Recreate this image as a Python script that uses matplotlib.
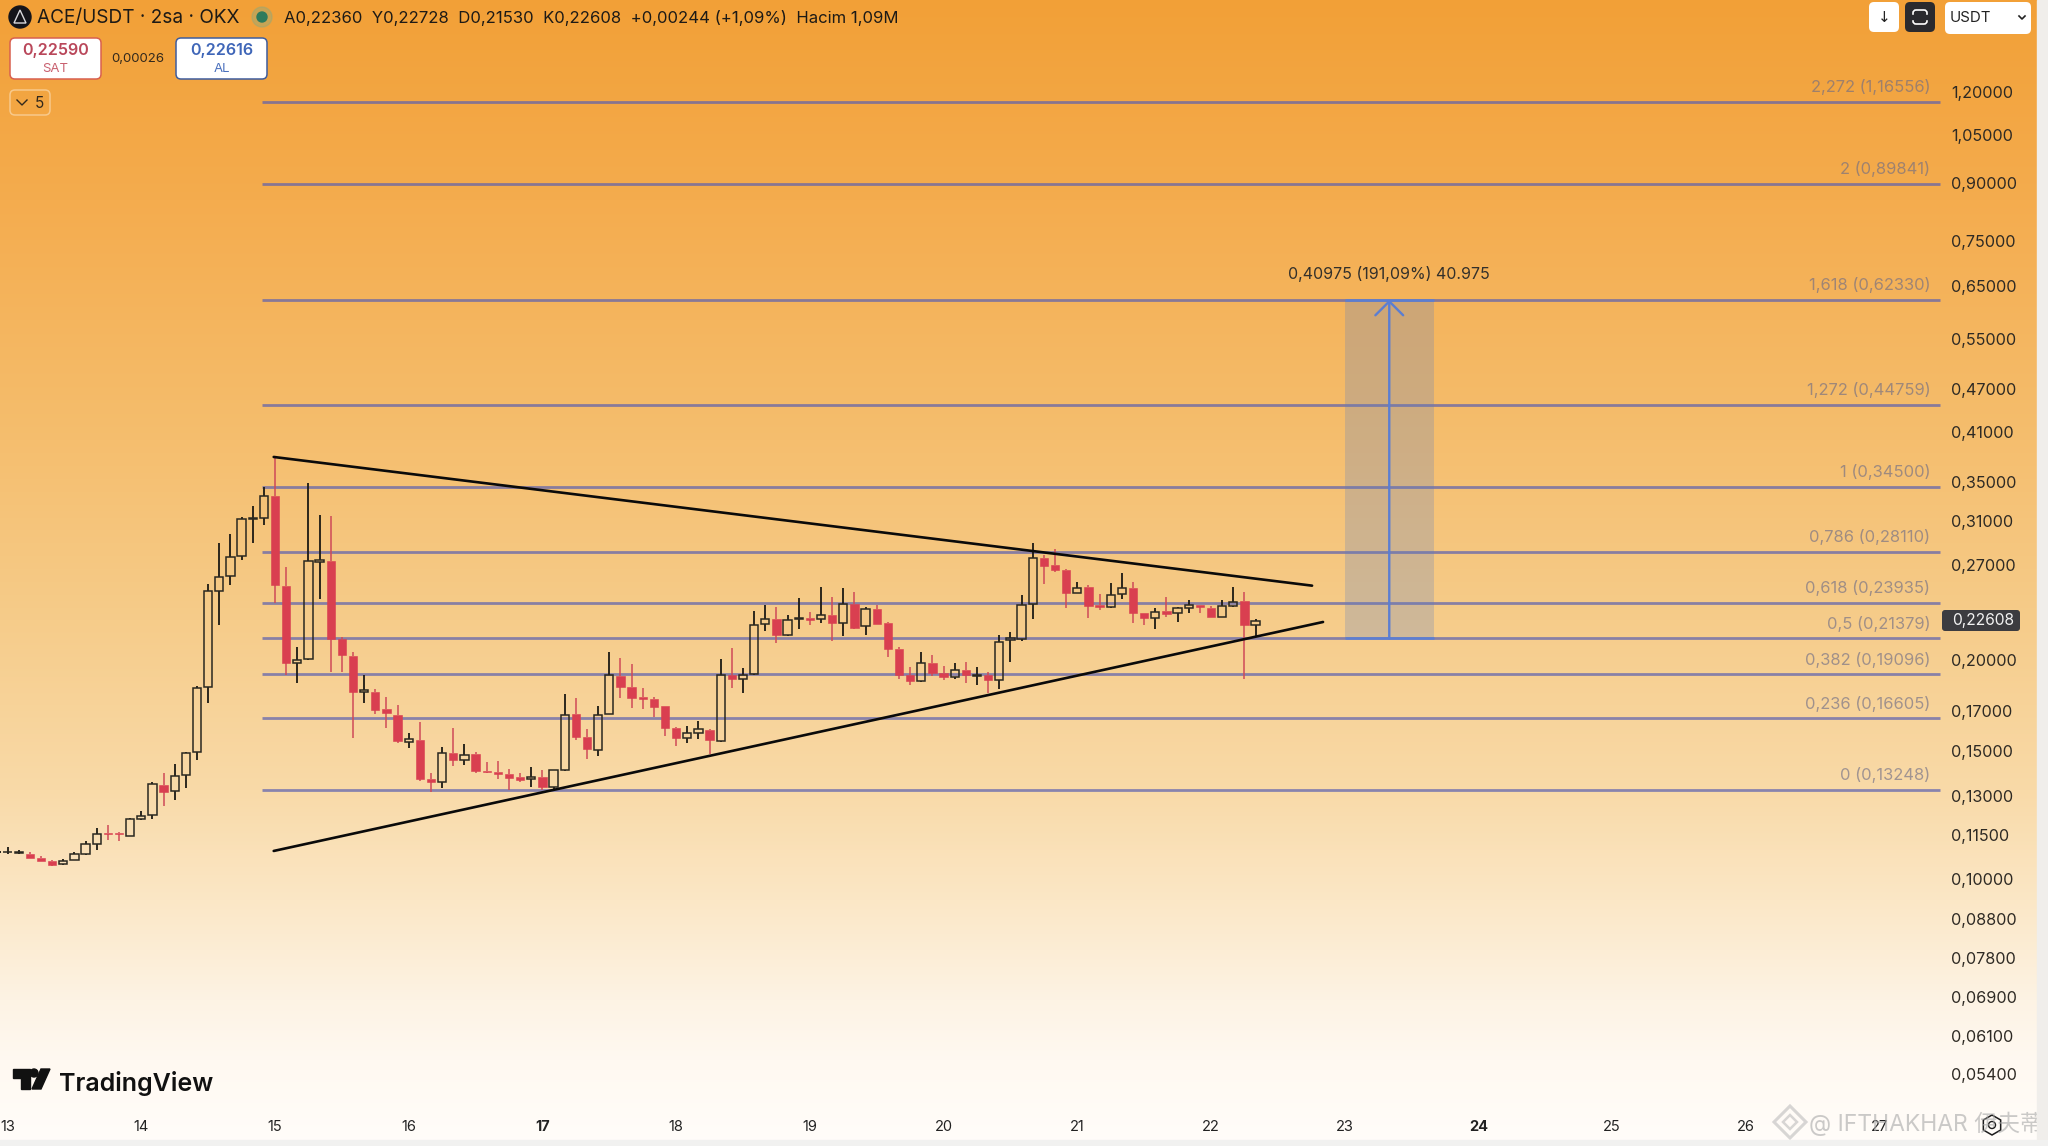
"""ACE/USDT 2h chart with fibonacci levels, redrawn from a TradingView screenshot"""

import numpy as np
import matplotlib
matplotlib.use('Agg')
import matplotlib.pyplot as plt
from matplotlib.patches import Circle, FancyBboxPatch, Polygon, Rectangle, RegularPolygon
from matplotlib.ticker import NullFormatter, NullLocator

opens = [.1088,.1088,.1086,.1083,.1070,.1060,.1049,.1063,.1081,.1116,.1155,.1155,.1147,.1209,.1224,.1344,.1319,.1389,.1492,.1832,
         .2486,.2602,.2771,.3121,.3125,.3353,.2523,.1981,.2002,.2719,.2734,.2137,.2023,.1805,.1807,.1709,.1677,.1542,.1551,.1372,
         .1359,.1491,.1455,.1484,.1408,.1404,.1393,.1382,.1373,.1379,.1339,.1411,.1682,.1568,.1503,.1686,.1901,.1834,.1775,.1766,
         .1727,.1613,.1560,.1586,.1601,.1547,.1907,.1879,.1911,.2236,.2274,.2162,.2271,.2281,.2271,.2305,.2243,.2386,.2224,.2349,
         .2243,.2068,.1907,.1867,.1981,.1917,.1891,.1933,.1897,.1907,.1873,.2128,.2132,.2386,.2757,.2696,.2657,.2471,.2518,.2376,
         .2361,.2460,.2508,.2315,.2278,.2334,.2317,.2354,.2376,.2354,.2288,.2366,.2404,.2233]
highs = [.1094,.1105,.1096,.1090,.1077,.1063,.1064,.1090,.1129,.1176,.1186,.1160,.1214,.1240,.1357,.1399,.1440,.1495,.1840,.2537,
         .2887,.2971,.3141,.3245,.3453,.3797,.2682,.2079,.3494,.3161,.3148,.2150,.2051,.1907,.1823,.1779,.1731,.1588,.1644,.1399,
         .1516,.1610,.1532,.1492,.1449,.1453,.1416,.1396,.1423,.1411,.1411,.1792,.1773,.1605,.1727,.2049,.2012,.1970,.1826,.1779,
         .1729,.1615,.1623,.1646,.1605,.2002,.2077,.1950,.2332,.2379,.2364,.2300,.2427,.2322,.2513,.2435,.2510,.2473,.2359,.2376,
         .2250,.2079,.1956,.2046,.2031,.1960,.1977,.1983,.1954,.1925,.2162,.2182,.2453,.2887,.2783,.2836,.2660,.2555,.2531,.2460,
         .2545,.2626,.2558,.2315,.2352,.2440,.2359,.2414,.2379,.2371,.2414,.2513,.2473,.2271]
lows = [.1085,.1081,.1081,.1068,.1058,.1041,.1046,.1061,.1080,.1096,.1131,.1129,.1146,.1206,.1210,.1261,.1285,.1335,.1456,.1746,
        .2231,.2531,.2739,.2890,.3063,.2394,.1903,.1859,.1997,.2422,.1925,.1921,.1563,.1742,.1682,.1613,.1535,.1513,.1364,.1318,
        .1335,.1428,.1432,.1396,.1396,.1373,.1325,.1360,.1339,.1325,.1325,.1408,.1551,.1460,.1475,.1684,.1772,.1715,.1709,.1667,
        .1571,.1522,.1537,.1555,.1484,.1543,.1828,.1800,.1907,.2187,.2105,.2155,.2201,.2229,.2243,.2121,.2157,.2201,.2164,.2238,
        .2019,.1879,.1848,.1863,.1899,.1875,.1883,.1859,.1844,.1802,.1825,.1985,.2123,.2274,.2539,.2640,.2354,.2466,.2278,.2339,
        .2352,.2424,.2247,.2229,.2205,.2290,.2250,.2320,.2315,.2286,.2286,.2364,.1879,.2150]
closes = [.1090,.1090,.1088,.1070,.1060,.1045,.1060,.1081,.1117,.1154,.1152,.1152,.1208,.1219,.1352,.1315,.1383,.1491,.1826,.2481,
          .2599,.2765,.3121,.3131,.3353,.2531,.1977,.1995,.2728,.2739,.2134,.2029,.1804,.1819,.1704,.1690,.1545,.1556,.1373,.1360,
          .1491,.1458,.1481,.1408,.1404,.1393,.1376,.1367,.1379,.1339,.1410,.1681,.1568,.1506,.1681,.1905,.1834,.1773,.1768,.1720,
          .1610,.1560,.1584,.1605,.1550,.1907,.1879,.1907,.2233,.2271,.2162,.2264,.2283,.2269,.2305,.2245,.2386,.2210,.2347,.2240,
          .2066,.1907,.1869,.1981,.1917,.1891,.1933,.1903,.1905,.1875,.2112,.2139,.2374,.2757,.2691,.2654,.2466,.2508,.2371,.2364,
          .2455,.2510,.2317,.2278,.2327,.2310,.2352,.2379,.2359,.2290,.2366,.2402,.2233,.2259]
FIRST_CANDLE = 15 - 25 / 12  # 2h candles, the day number is the x axis

fib_prices = [1.16556, 0.89841, 0.62330, 0.44759, 0.34500, 0.28110, 0.23935, 0.21379, 0.19096, 0.16605, 0.13248]
fib_labels = ['2,272 (1,16556)', '2 (0,89841)', '1,618 (0,62330)', '1,272 (0,44759)', '1 (0,34500)', '0,786 (0,28110)',
              '0,618 (0,23935)', '0,5 (0,21379)', '0,382 (0,19096)', '0,236 (0,16605)', '0 (0,13248)']

y_ticks = [1.2, 1.05, 0.9, 0.75, 0.65, 0.55, 0.47, 0.41, 0.35, 0.31, 0.27, 0.2, 0.17, 0.15, 0.13,
           0.115, 0.1, 0.088, 0.078, 0.069, 0.061, 0.054]
y_labels = ['1,20000', '1,05000', '0,90000', '0,75000', '0,65000', '0,55000', '0,47000', '0,41000', '0,35000', '0,31000',
            '0,27000', '0,20000', '0,17000', '0,15000', '0,13000', '0,11500', '0,10000', '0,08800', '0,07800', '0,06900',
            '0,06100', '0,05400']
x_days = list(range(13, 28))
bold_days = [17, 24]

upper_trend_x, upper_trend_y = [14.99, 22.756], [0.3793, 0.2526]
lower_trend_x, lower_trend_y = [14.99, 22.838], [0.10927, 0.22522]

plt.rcParams['font.family'] = ['Inter', 'Noto Sans CJK SC', 'DejaVu Sans']

W, H = 2048, 1146
fig = plt.figure(figsize=(W / 100, H / 100), dpi=100)

# background gradient
bg = fig.add_axes([0, 0, 1, 1], zorder=0)
stops_y = [0, 200, 440, 620, 790, 900, 1000, 1060, 1146]
stops_rgb = np.array([(242, 160, 55), (244, 172, 78), (245, 190, 110), (246, 204, 138), (249, 218, 168),
                      (251, 231, 198), (253, 243, 228), (255, 249, 241), (255, 253, 250)]) / 255
rows = np.arange(H)
grad = np.stack([np.interp(rows, stops_y, stops_rgb[:, i]) for i in range(3)], axis=1)[:, None, :]
bg.imshow(grad, aspect='auto')
bg.axis('off')

ax = fig.add_axes([0, 0, 1, 1], zorder=1)
ax.patch.set_alpha(0)
ax.set_yscale('log')
ax.set_xlim(12.943, 28.26)
ax.set_ylim(0.04303, 1.6063)
for s in ax.spines.values():
    s.set_visible(False)

# fib levels
FIB_COL = '#5a5fb0'
ax.hlines(fib_prices, 14.90, 27.45, color=FIB_COL, lw=2, alpha=0.7, zorder=1)
for lab, p in zip(fib_labels, fib_prices):
    ax.annotate(lab, (27.38, p), xytext=(0, 10.5), textcoords='offset points', ha='right', va='center',
                fontsize=11.9, color='#6b6a86', alpha=0.62)

# candles
xs = FIRST_CANDLE + np.arange(len(opens)) / 12
for x, o, h, l, c in zip(xs, opens, highs, lows, closes):
    top, bot = max(o, c), min(o, c)
    if c >= o:
        ax.vlines([x, x], [top, l], [h, bot], color='#1c1a14', lw=1.3, zorder=3)
        ax.bar(x, top - bot, bottom=bot, width=0.062, facecolor='none', edgecolor='#2a2820', lw=1.1, zorder=3)
    else:
        ax.vlines([x, x], [top, l], [h, bot], color='#cf4a58', lw=1.1, zorder=3)
        ax.bar(x, top - bot, bottom=bot, width=0.062, facecolor='#d93f50', edgecolor='#d93f50', lw=0.4, zorder=3)

# trend lines
ax.plot(upper_trend_x, upper_trend_y, color='#0a0a0a', lw=1.9, solid_capstyle='round', zorder=4)
ax.plot(lower_trend_x, lower_trend_y, color='#0a0a0a', lw=1.9, solid_capstyle='round', zorder=4)

# measure tool
MEASURE = '#5b7ed2'
m_left, m_right = 23.0, 23 + 8 / 12
m_low, m_high = fib_prices[7], fib_prices[2]
ax.fill_between([m_left, m_right], m_low, m_high, color='#5b7ec4', alpha=0.25, lw=0, zorder=2)
ax.hlines([m_low, m_high], m_left, m_right, color=MEASURE, lw=1.8, zorder=2)
ax.annotate('', xy=((m_left + m_right) / 2, m_high), xytext=((m_left + m_right) / 2, m_low),
            arrowprops=dict(arrowstyle='->,head_length=1.0,head_width=1.0', mutation_scale=10, color=MEASURE,
                            lw=1.7, shrinkA=0, shrinkB=0), zorder=2)
ax.text((m_left + m_right) / 2, 0.6755, '0,40975 (191,09%) 40.975', ha='center', va='center', fontsize=11.5, color='#33302b')

# axes ticks sit inside the picture
ax.yaxis.tick_right()
ax.set_yticks(y_ticks, y_labels)
ax.yaxis.set_minor_locator(NullLocator())
ax.yaxis.set_minor_formatter(NullFormatter())
ax.tick_params(axis='y', length=0, pad=-70, labelsize=11.7, labelcolor='#2e2a24')
for t in ax.get_yticklabels():
    t.set_ha('left')
ax.set_xticks(x_days, [str(d) for d in x_days])
ax.tick_params(axis='x', length=0, pad=-19, labelsize=10.5, labelcolor='#222222')
for d, t in zip(x_days, ax.get_xticklabels()):
    if d in bold_days:
        t.set_fontweight('bold')

# screenshot furniture in pixel coordinates
ui = fig.add_axes([0, 0, 1, 1], zorder=5)
ui.set_xlim(0, W)
ui.set_ylim(H, 0)
ui.axis('off')


def box(x0, y0, x1, y1, face, edge='none', lw=1.0, r=5, z=6):
    ui.add_patch(FancyBboxPatch((x0 + r, y0 + r), x1 - x0 - 2 * r, y1 - y0 - 2 * r, boxstyle='round,pad=%d' % r,
                                facecolor=face, edgecolor=edge, lw=lw, zorder=z))


ui.add_patch(Circle((20, 17), 11, color='#14141a', zorder=6))
ui.add_patch(Polygon([(20, 10), (26, 23), (14, 23)], closed=True, fill=False, edgecolor='#d9d9dd', lw=1.0, zorder=7))
ui.add_patch(Circle((262, 17), 10, color='#93a878', alpha=0.45, zorder=6))
ui.add_patch(Circle((262, 17), 5, color='#2c7a5c', zorder=7))
ui.text(37, 18, 'ACE/USDT · 2sa · OKX', fontsize=13.7, color='#1d1a16', va='center')
ui.text(284, 18, 'A0,22360  Y0,22728  D0,21530  K0,22608  +0,00244 (+1,09%)  Hacim 1,09M', fontsize=12, color='#1d1a16', va='center')

box(10, 38, 101, 79, 'white', '#d9604f', 1.1)
ui.text(55.5, 50, '0,22590', fontsize=11.6, fontweight='semibold', color='#b9475a', ha='center', va='center', zorder=7)
ui.text(55.5, 68.5, 'SAT', fontsize=9.5, color='#c9606f', ha='center', va='center', zorder=7)
ui.text(138, 59, '0,00026', fontsize=9.5, color='#33291c', ha='center', va='center')
box(176, 38, 267, 79, 'white', '#3f5d9e', 1.1)
ui.text(221.5, 50, '0,22616', fontsize=11.6, fontweight='semibold', color='#3f66b8', ha='center', va='center', zorder=7)
ui.text(221.5, 68.5, 'AL', fontsize=9.5, color='#4a70bd', ha='center', va='center', zorder=7)
box(10, 90, 50, 115, 'none', '#f8c98b', 1.1)
ui.plot([17, 22, 27], [100, 105, 100], color='#33291c', lw=1.0, zorder=7)
ui.text(39, 103, '5', fontsize=11, color='#33291c', ha='center', va='center', zorder=7)

box(1869, 2, 1899, 32, 'white')
ui.text(1884, 17, '↓', fontsize=11, family='DejaVu Sans', color='#222222', ha='center', va='center', zorder=7)
box(1905, 2, 1935, 32, '#2a2a2e')
box(1913, 10, 1927, 24, 'none', 'white', 1.2, r=3, z=7)
ui.add_patch(Rectangle((1911, 15), 18, 4, color='#2a2a2e', zorder=8))
box(1945, 2, 2031, 34, 'white')
ui.text(1950, 18, 'USDT', fontsize=10.8, color='#222222', va='center', zorder=7)
ui.plot([2019, 2022, 2025], [16, 19, 16], color='#222222', lw=1.2, zorder=7)

box(1942, 610, 2020, 631, '#3c3c40', r=3, z=6)
ui.text(1952, 620.5, '0,22608', fontsize=11.2, color='#f2f2f2', va='center', zorder=7)

# TradingView logo
ui.add_patch(Polygon([(12.5, 1069), (30, 1069), (30, 1089), (21, 1089), (21, 1078), (12.5, 1078)], color='#111111', zorder=6))
ui.add_patch(Circle((34, 1073), 4, color='#111111', zorder=6))
ui.add_patch(Polygon([(41, 1069), (50, 1069), (41, 1089), (32, 1089)], color='#111111', zorder=6))
ui.text(59, 1083, 'TradingView', fontsize=18, fontweight='semibold', color='#111111', va='center')

# watermark and settings icon
ui.add_patch(RegularPolygon((1992, 1125), 6, radius=10, fill=False, edgecolor='#1c1c1c', lw=1.1, zorder=6))
ui.add_patch(Circle((1992, 1125), 3.5, fill=False, edgecolor='#1c1c1c', lw=1.0, zorder=6))
ui.add_patch(RegularPolygon((1790, 1122), 4, radius=16, fill=False, edgecolor='#bdbdbd', lw=2.2, alpha=0.6, zorder=6))
ui.add_patch(RegularPolygon((1790, 1122), 4, radius=7, fill=False, edgecolor='#bdbdbd', lw=1.8, alpha=0.6, zorder=6))
ui.text(1809, 1124, '@ IFTHAKHAR 伊夫蒂', fontsize=16.5, color='#a8a8a8', alpha=0.6, va='center', zorder=6)

# page edge strips
ui.add_patch(Rectangle((2037, 0), 11, H, color='#f0eeeb', zorder=9))
ui.add_patch(Rectangle((0, 1140), W, 6, color='#f1f1f0', zorder=9))

fig.savefig('out.png', dpi=100)
